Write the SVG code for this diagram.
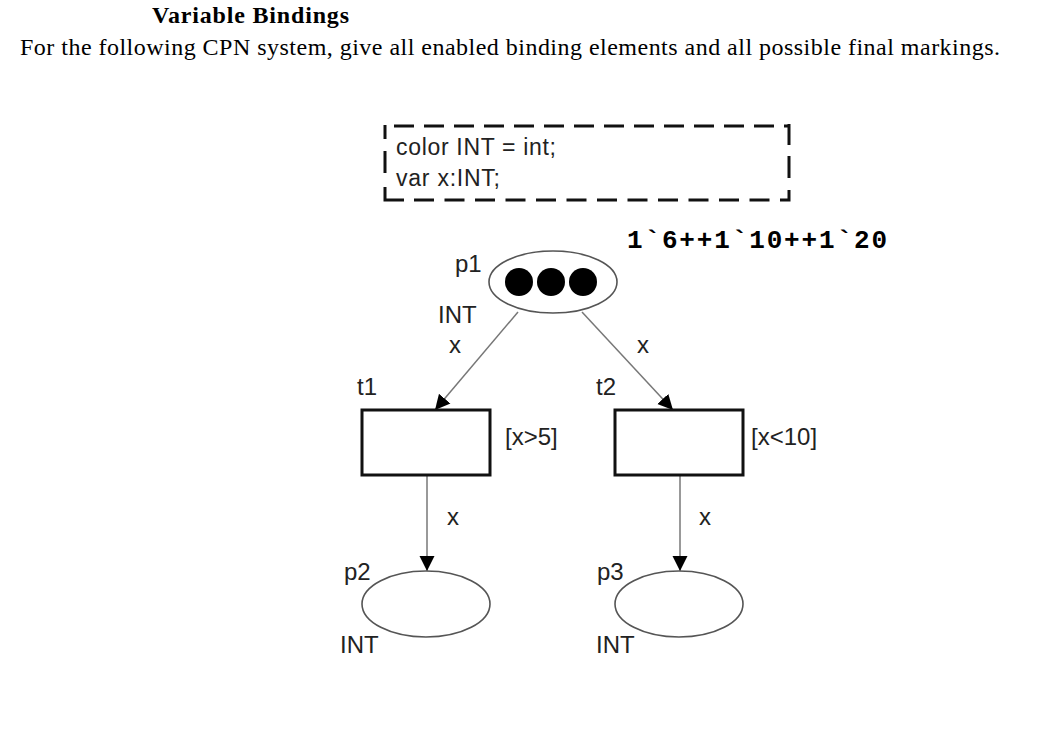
<svg xmlns="http://www.w3.org/2000/svg" width="1049" height="738" viewBox="0 0 1049 738">
<style>
.serif{font-family:"Liberation Serif","Times New Roman",serif;fill:#000}
.lbl{font-family:"Liberation Sans",Arial,sans-serif;font-size:24px;fill:#222}
.decl{font-family:"Liberation Sans",Arial,sans-serif;font-size:23px;fill:#222}
.mono{font-family:"Liberation Mono","Courier New",monospace;font-size:26px;font-weight:bold;fill:#000}
.place{fill:#fff;stroke:#555;stroke-width:1.6}
.trans{fill:#fff;stroke:#111;stroke-width:3}
.arc{stroke:#777;stroke-width:1.5;fill:none}
.tok{fill:#000}
.dash{stroke:#111;stroke-width:3;fill:none}
</style>
<defs>
<marker id="ah" markerUnits="userSpaceOnUse" markerWidth="16" markerHeight="16" refX="15" refY="7.5" orient="auto" viewBox="0 0 16 15">
<path d="M0,0 L15,7.5 L0,15 z" fill="#000"/>
</marker>
</defs>
<rect width="1049" height="738" fill="#fff"/>
<text class="serif" x="152" y="23" font-size="24" font-weight="bold" textLength="197">Variable Bindings</text>
<text class="serif" x="20" y="55" font-size="24" textLength="980">For the following CPN system, give all enabled binding elements and all possible final markings.</text>

<g id="declarations">
<line class="dash" x1="394" y1="126" x2="789" y2="126" stroke-dasharray="20 10"/>
<path class="dash" d="M385,125 V139 M385,151 V173 M385,187 V200 H404"/>
<line class="dash" x1="414" y1="200" x2="780" y2="200" stroke-dasharray="20 10.5"/>
<path class="dash" d="M789,124 V145 M789,156 V178 M789,190 V200 H780"/>
<text class="decl" x="396" y="155" textLength="160">color INT = int;</text>
<text class="decl" x="396" y="186" textLength="104">var x:INT;</text>
</g>

<g id="connectors">
<line class="arc" x1="518" y1="312" x2="435" y2="410" marker-end="url(#ah)"/>
<line class="arc" x1="582" y1="312" x2="673" y2="410" marker-end="url(#ah)"/>
<line class="arc" x1="427" y1="475" x2="427" y2="571" marker-end="url(#ah)"/>
<line class="arc" x1="680" y1="475" x2="680" y2="571" marker-end="url(#ah)"/>
<text class="lbl" x="449" y="353">x</text>
<text class="lbl" x="637" y="353">x</text>
<text class="lbl" x="447" y="525">x</text>
<text class="lbl" x="699" y="525">x</text>
</g>

<g id="p1">
<ellipse class="place" cx="553" cy="282" rx="64" ry="31"/>
<circle class="tok" cx="519" cy="282" r="14"/>
<circle class="tok" cx="551" cy="282" r="14"/>
<circle class="tok" cx="583" cy="282" r="14"/>
<text class="lbl" x="455" y="272">p1</text>
<text class="lbl" x="438" y="323">INT</text>
<text class="mono" x="627" y="248" textLength="260">1`6++1`10++1`20</text>
</g>

<g id="t1">
<rect class="trans" x="362" y="410" width="128" height="65"/>
<text class="lbl" x="357" y="395">t1</text>
<text class="lbl" x="505" y="445">[x&gt;5]</text>
</g>

<g id="t2">
<rect class="trans" x="615" y="410" width="128" height="65"/>
<text class="lbl" x="596" y="395">t2</text>
<text class="lbl" x="751" y="445">[x&lt;10]</text>
</g>

<g id="p2">
<ellipse class="place" cx="426" cy="604" rx="64" ry="33"/>
<text class="lbl" x="344" y="580">p2</text>
<text class="lbl" x="340" y="653">INT</text>
</g>

<g id="p3">
<ellipse class="place" cx="679" cy="604" rx="64" ry="33"/>
<text class="lbl" x="597" y="580">p3</text>
<text class="lbl" x="596" y="653">INT</text>
</g>
</svg>
